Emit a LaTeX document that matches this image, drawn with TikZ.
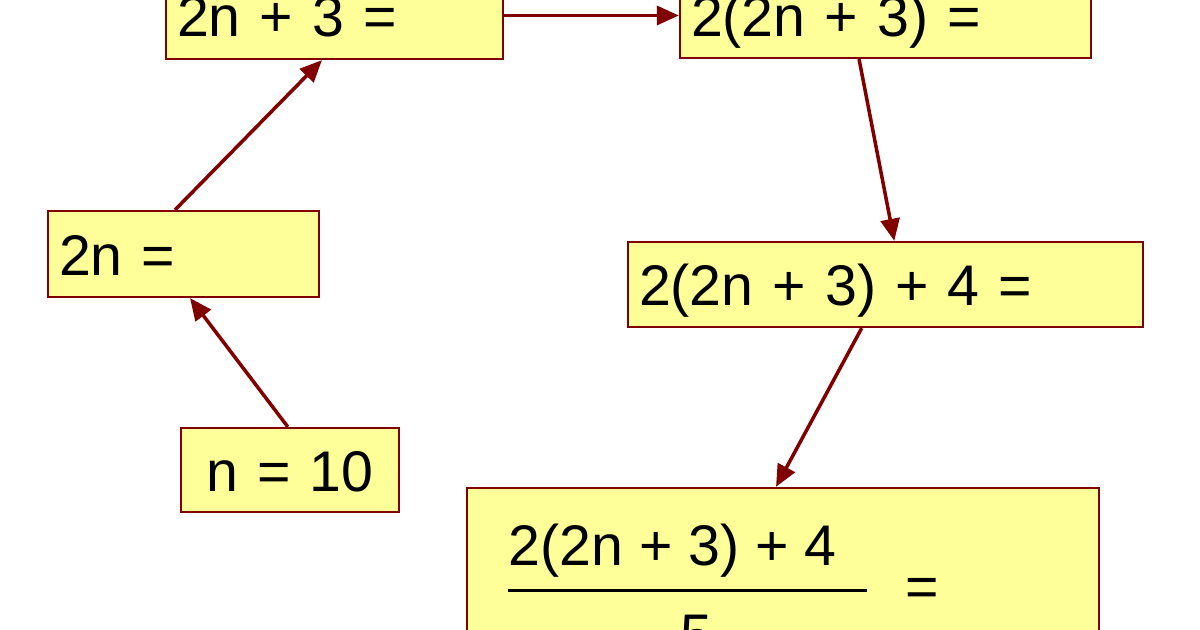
\documentclass[tikz,border=0pt]{standalone}
\usepackage{fontspec}
\setmainfont{Liberation Sans}
\usetikzlibrary{arrows.meta, calc}

\definecolor{maroonline}{HTML}{800000}
\definecolor{boxyellow}{HTML}{FFFF99}

\tikzset{
  stepbox/.style = {draw = maroonline, fill = boxyellow, line width = 0.65pt,
    inner xsep = 0.11cm, text height = 0.43cm, text depth = 0pt,
    align = left, font = \fontsize{16.3}{20}\selectfont},
  bigtext/.style = {inner sep = 0pt, font = \fontsize{16.3}{20}\selectfont},
  link/.style = {maroonline, line width = 1pt,
    -{Triangle[length = 0.22cm, width = 0.19cm]}}
}

\begin{document}
\begin{tikzpicture}
  \useasboundingbox (0, 0) rectangle (12, 6.3);
  \clip (0, 0) rectangle (12, 6.3);

  \node[stepbox, text width = 1.96cm, align = center, minimum height = 0.84cm]
    (ten) at (2.90, 1.60) {n = 10};
  \node[stepbox, text width = 2.49cm, minimum height = 0.86cm]
    (twice) at (1.835, 3.76) {2n =};
  \node[stepbox, text width = 3.15cm, minimum height = 0.87cm]
    (plusthree) at (3.345, 6.145) {2n + 3 =};
  \node[stepbox, text width = 3.89cm, minimum height = 0.86cm]
    (twicemore) at (8.855, 6.15) {2(2n + 3) =};
  \node[stepbox, text width = 4.93cm, minimum height = 0.85cm]
    (plusfour) at (8.855, 3.455) {2(2n + 3) + 4 =};

  \node[stepbox, minimum width = 6.32cm, minimum height = 2.4cm]
    (quotient) at (7.83, 0.22) {};
  \node[bigtext, anchor = base west] (numer) at (5.08, 0.64) {2(2n + 3) + 4};
  \draw[line width = 0.03cm] (5.08, 0.39) -- (8.67, 0.39);
  \node[bigtext, anchor = base] (denom) at (6.96, -0.25) {5};
  \node[bigtext, anchor = base west] (equals) at (9.045, 0.23) {=};

  \draw[link] ($(ten.north west)!0.49!(ten.north east)$)
    -- ($(twice.south west)!0.524!(twice.south east)$);
  \draw[link] ($(twice.north west)!0.469!(twice.north east)$)
    -- ($(plusthree.south west)!0.463!(plusthree.south east)$);
  \draw[link] (plusthree.east) -- (plusthree.east -| twicemore.west);
  \draw[link] ($(twicemore.south west)!0.436!(twicemore.south east)$)
    -- ($(plusfour.north west)!0.517!(plusfour.north east)$);
  \draw[link] ($(plusfour.south west)!0.454!(plusfour.south east)$)
    -- ($(quotient.north west)!0.489!(quotient.north east)$);
\end{tikzpicture}
\end{document}
